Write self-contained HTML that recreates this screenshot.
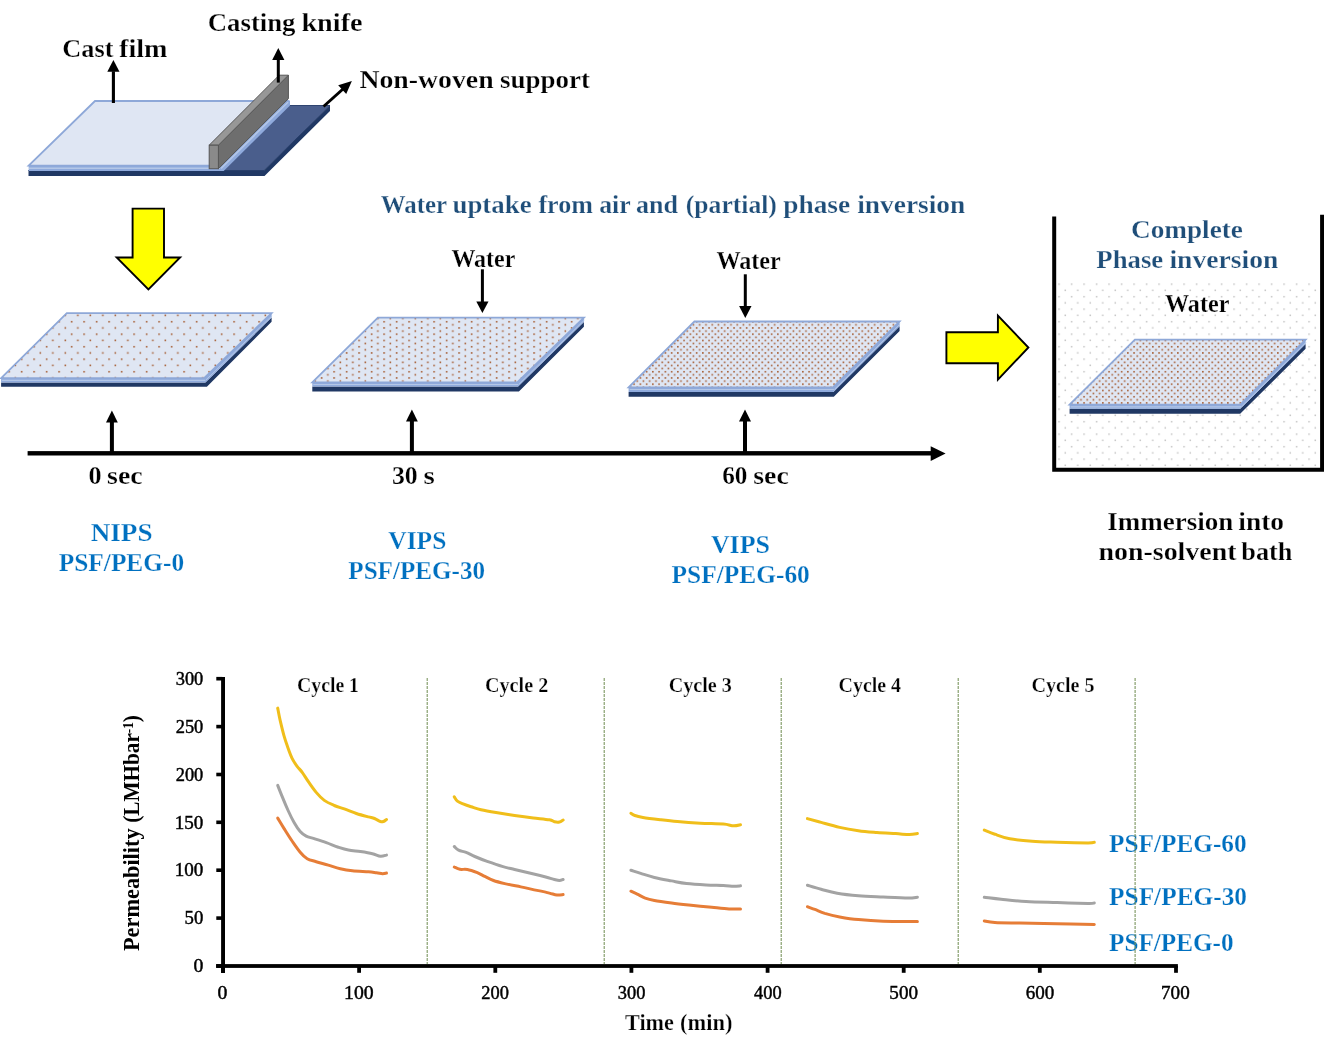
<!DOCTYPE html>
<html><head><meta charset="utf-8"><title>Phase inversion</title><style>html,body{margin:0;padding:0;background:#fff;}svg{display:block;}</style></head><body>
<svg width="1324" height="1046" viewBox="0 0 1324 1046" font-family="'Liberation Serif', serif"><defs>
<pattern id="pA" patternUnits="userSpaceOnUse" x="8.3" y="8.4" width="12.5" height="12.5"><rect x="0" y="0" width="1.6" height="1.6" fill="#A8623A"/><rect x="6.25" y="6.25" width="1.6" height="1.6" fill="#A8623A"/></pattern>
<pattern id="pB" patternUnits="userSpaceOnUse" x="8.3" y="8.4" width="12.5" height="6.25"><rect x="0" y="0" width="1.6" height="1.6" fill="#A8623A"/><rect x="6.25" y="3.125" width="1.6" height="1.6" fill="#A8623A"/></pattern>
<pattern id="pC" patternUnits="userSpaceOnUse" x="8.3" y="8.4" width="6.25" height="6.25"><rect x="0" y="0" width="1.6" height="1.6" fill="#A8623A"/><rect x="3.125" y="3.125" width="1.6" height="1.6" fill="#A8623A"/></pattern>
<pattern id="pD" patternUnits="userSpaceOnUse" x="8.3" y="8.4" width="6.25" height="6.25"><rect x="0" y="0" width="1.6" height="1.6" fill="#A8623A"/><rect x="3.125" y="3.125" width="1.6" height="1.6" fill="#A8623A"/></pattern>
<pattern id="pW" patternUnits="userSpaceOnUse" x="8.3" y="8.4" width="12.5" height="12.5"><rect x="0" y="0" width="1.5" height="1.5" fill="#C4C4C4"/><rect x="6.25" y="6.25" width="1.5" height="1.5" fill="#C4C4C4"/></pattern>
</defs>
<rect width="1324" height="1046" fill="#fff"/>
<polygon points="95.0,105.5 330.0,105.5 264.0,170.5 28.5,170.5" fill="#4A5E8C" stroke="#2F4470" stroke-width="1"/>
<polygon points="28.5,170.5 264.0,170.5 330.0,105.5 330.0,111.0 264.5,176.0 28.5,176.0" fill="#203864"/>
<polygon points="95.0,100.5 290.0,100.5 290.0,105.5 223.7,171.0 28.7,171.0 28.7,165.6" fill="#8FAADC"/>
<line x1="29" y1="168.3" x2="220" y2="168.3" stroke="#B4C7E7" stroke-width="1.4"/>
<line x1="221" y1="168.5" x2="288" y2="102" stroke="#B4C7E7" stroke-width="1.6"/>
<polygon points="95.0,101.0 287.0,101.0 218.4,165.6 28.7,165.6" fill="#DFE6F3" stroke="#8EA8D8" stroke-width="1.8"/>
<polygon points="218.4,145.2 288.4,75.2 288.4,98.7 218.4,168.7" fill="#6E6E6E" stroke="#555" stroke-width="1"/>
<polygon points="209.2,145.2 218.4,145.2 288.4,75.2 279.2,75.2" fill="#979797" stroke="#555" stroke-width="1"/>
<rect x="209.2" y="145.2" width="9.2" height="23.5" fill="#8A8A8A" stroke="#555" stroke-width="1"/>
<rect x="111.85" y="71.30" width="3.1" height="31.70" fill="#000"/><polygon points="113.4,60.0 119.5,71.8 107.3,71.8" fill="#000"/>
<rect x="276.80" y="59.40" width="3.0" height="23.20" fill="#000"/><polygon points="278.3,47.9 284.4,59.9 272.2,59.9" fill="#000"/>
<line x1="323.5" y1="106.5" x2="343.0" y2="89.0" stroke="#000" stroke-width="3"/>
<polygon points="351.9,81.0 346.2,94.1 338.2,85.2" fill="#000"/>
<polygon points="132.6,208.6 164.0,208.6 164.0,257.5 180.1,257.5 148.4,289.3 116.7,257.5 132.6,257.5" fill="#FFFF00" stroke="#000" stroke-width="1.9"/>
<polygon points="946.4,332.2 997.9,332.2 997.9,315.6 1028.4,347.5 997.9,379.6 997.9,363.2 946.4,363.2" fill="#FFFF00" stroke="#000" stroke-width="1.9"/>
<rect x="1057" y="282.5" width="262" height="184" fill="url(#pW)"/>
<path d="M1054.2,216.4 V469.7 H1322.1 V214.8" fill="none" stroke="#000" stroke-width="4" stroke-linejoin="miter"/>
<polygon points="1.1,382.5 205.4,382.5 271.6,317.6 271.6,321.8 206.9,386.7 1.1,386.7" fill="#203864"/>
<polygon points="1.1,378.1 204.1,378.1 271.6,313.2 271.6,317.6 205.4,382.5 1.1,382.5" fill="#8FAADC"/>
<line x1="2.1" y1="380.3" x2="205.1" y2="380.3" stroke="#B4C7E7" stroke-width="1.2"/>
<line x1="205.6" y1="380.3" x2="272.1" y2="315.7" stroke="#B4C7E7" stroke-width="1.0"/>
<polygon points="66.8,313.2 271.6,313.2 204.1,378.1 1.1,378.1" fill="#DFE6F3"/>
<polygon points="66.8,313.2 271.6,313.2 204.1,378.1 1.1,378.1" fill="url(#pA)"/>
<polygon points="66.8,313.2 271.6,313.2 204.1,378.1 1.1,378.1" fill="none" stroke="#8EA8D8" stroke-width="1.8" stroke-linejoin="miter"/>
<polygon points="312.3,386.6 518.1,386.6 583.9,321.9 583.9,326.8 518.9,391.5 312.3,391.5" fill="#203864"/>
<polygon points="312.3,382.3 517.2,382.3 583.9,317.6 583.9,321.9 518.1,386.6 312.3,386.6" fill="#8FAADC"/>
<line x1="313.3" y1="384.5" x2="518.2" y2="384.5" stroke="#B4C7E7" stroke-width="1.2"/>
<line x1="518.7" y1="384.5" x2="584.4" y2="320.1" stroke="#B4C7E7" stroke-width="1.0"/>
<polygon points="377.9,317.6 583.9,317.6 517.2,382.3 312.3,382.3" fill="#DFE6F3"/>
<polygon points="377.9,317.6 583.9,317.6 517.2,382.3 312.3,382.3" fill="url(#pB)"/>
<polygon points="377.9,317.6 583.9,317.6 517.2,382.3 312.3,382.3" fill="none" stroke="#8EA8D8" stroke-width="1.8" stroke-linejoin="miter"/>
<polygon points="628.6,392.0 833.4,392.0 899.6,326.2 899.6,331.0 833.8,396.8 628.6,396.8" fill="#203864"/>
<polygon points="628.6,387.3 832.9,387.3 899.6,321.5 899.6,326.2 833.4,392.0 628.6,392.0" fill="#8FAADC"/>
<line x1="629.6" y1="389.5" x2="833.9" y2="389.5" stroke="#B4C7E7" stroke-width="1.2"/>
<line x1="834.4" y1="389.5" x2="900.1" y2="324.0" stroke="#B4C7E7" stroke-width="1.0"/>
<polygon points="694.4,321.5 899.6,321.5 832.9,387.3 628.6,387.3" fill="#DFE6F3"/>
<polygon points="694.4,321.5 899.6,321.5 832.9,387.3 628.6,387.3" fill="url(#pC)"/>
<polygon points="694.4,321.5 899.6,321.5 832.9,387.3 628.6,387.3" fill="none" stroke="#8EA8D8" stroke-width="1.8" stroke-linejoin="miter"/>
<polygon points="1069.6,408.8 1240.2,408.8 1305.6,343.9 1305.6,348.8 1240.2,413.7 1069.6,413.7" fill="#203864"/>
<polygon points="1069.6,404.6 1240.2,404.6 1305.6,339.7 1305.6,343.9 1240.2,408.8 1069.6,408.8" fill="#8FAADC"/>
<line x1="1070.6" y1="406.8" x2="1241.2" y2="406.8" stroke="#B4C7E7" stroke-width="1.2"/>
<line x1="1241.7" y1="406.8" x2="1306.1" y2="342.2" stroke="#B4C7E7" stroke-width="1.0"/>
<polygon points="1134.9,339.7 1305.6,339.7 1240.2,404.6 1069.6,404.6" fill="#DFE6F3"/>
<polygon points="1134.9,339.7 1305.6,339.7 1240.2,404.6 1069.6,404.6" fill="url(#pD)"/>
<polygon points="1134.9,339.7 1305.6,339.7 1240.2,404.6 1069.6,404.6" fill="none" stroke="#8EA8D8" stroke-width="1.8" stroke-linejoin="miter"/>
<rect x="480.90" y="269.30" width="3.0" height="32.70" fill="#000"/><polygon points="482.4,313.1 488.5,301.5 476.3,301.5" fill="#000"/>
<rect x="743.80" y="274.30" width="3.0" height="32.30" fill="#000"/><polygon points="745.3,318.1 751.5,306.1 739.1,306.1" fill="#000"/>
<rect x="27.6" y="451.1" width="905" height="4.4" fill="#000"/>
<polygon points="945.6,453.4 930.7,446.2 930.7,460.9" fill="#000"/>
<rect x="109.90" y="421.90" width="4.0" height="30.10" fill="#000"/><polygon points="111.9,410.6 117.8,422.4 106.0,422.4" fill="#000"/>
<rect x="409.90" y="420.90" width="4.0" height="31.10" fill="#000"/><polygon points="411.9,409.6 417.8,421.4 406.0,421.4" fill="#000"/>
<rect x="743.00" y="420.90" width="4.0" height="31.10" fill="#000"/><polygon points="745.0,409.6 751.0,421.4 739.0,421.4" fill="#000"/>
<path d="M277.7,818.1 C278.8,819.9 281.7,824.8 284.1,828.6 C286.5,832.4 289.4,837.1 292.1,841.0 C294.8,844.9 297.7,849.2 300.2,852.2 C302.7,855.2 304.5,857.1 307.2,858.7 C309.9,860.3 312.7,860.6 316.2,861.7 C319.7,862.8 324.3,863.9 328.3,865.1 C332.3,866.3 336.3,867.8 340.3,868.7 C344.3,869.6 347.7,870.2 352.4,870.7 C357.1,871.2 364.4,871.4 368.4,871.7 C372.4,872.0 374.1,872.4 376.5,872.7 C378.9,873.0 380.8,873.6 382.5,873.7 C384.2,873.8 385.8,873.2 386.5,873.1" fill="none" stroke="#E67D37" stroke-width="3" stroke-linecap="round" stroke-linejoin="round"/>
<path d="M454.3,867.0 C455.2,867.4 457.7,868.9 459.9,869.3 C462.1,869.7 464.5,869.0 467.4,869.5 C470.3,870.0 474.4,871.5 477.3,872.6 C480.2,873.8 482.1,875.1 484.8,876.4 C487.5,877.7 490.2,879.3 493.5,880.5 C496.8,881.7 500.1,882.5 504.7,883.6 C509.2,884.7 515.4,885.8 520.8,886.9 C526.2,888.0 532.2,889.4 537.0,890.4 C541.8,891.4 546.1,892.3 549.4,893.1 C552.7,893.9 554.6,894.8 556.9,895.0 C559.2,895.2 562.1,894.7 563.1,894.6" fill="none" stroke="#E67D37" stroke-width="3" stroke-linecap="round" stroke-linejoin="round"/>
<path d="M630.9,891.2 C632.0,891.7 634.8,893.0 637.2,894.1 C639.6,895.2 642.3,897.1 645.2,898.1 C648.1,899.1 650.0,899.6 654.4,900.4 C658.8,901.2 665.9,902.2 671.6,903.0 C677.3,903.8 682.1,904.3 688.8,905.0 C695.5,905.7 705.1,906.6 711.8,907.3 C718.5,908.0 724.2,908.7 729.0,909.0 C733.8,909.3 738.6,909.0 740.5,909.0" fill="none" stroke="#E67D37" stroke-width="3" stroke-linecap="round" stroke-linejoin="round"/>
<path d="M807.4,906.7 C808.6,907.2 812.0,908.3 814.9,909.4 C817.8,910.5 820.7,912.1 824.8,913.4 C828.9,914.6 834.1,915.9 839.7,916.9 C845.3,917.9 851.1,918.9 858.4,919.6 C865.6,920.3 873.4,920.9 883.2,921.2 C893.0,921.5 911.7,921.5 917.4,921.6" fill="none" stroke="#E67D37" stroke-width="3" stroke-linecap="round" stroke-linejoin="round"/>
<path d="M984.3,920.9 C986.1,921.2 989.0,922.1 994.9,922.5 C1000.8,922.9 1009.4,922.9 1019.7,923.1 C1030.0,923.3 1044.6,923.6 1057.0,923.8 C1069.4,924.0 1088.1,924.3 1094.3,924.4" fill="none" stroke="#E67D37" stroke-width="3" stroke-linecap="round" stroke-linejoin="round"/>
<path d="M277.7,785.4 C278.4,787.2 280.4,792.2 282.1,796.4 C283.8,800.6 286.1,806.1 288.1,810.5 C290.1,814.9 292.1,819.0 294.1,822.5 C296.1,826.0 298.2,829.3 300.2,831.6 C302.2,833.9 303.9,835.0 306.2,836.2 C308.5,837.4 310.8,837.5 314.2,838.6 C317.6,839.7 322.3,841.2 326.3,842.6 C330.3,844.0 334.6,846.0 338.3,847.2 C342.0,848.4 344.7,849.3 348.4,850.0 C352.1,850.7 356.4,851.0 360.4,851.6 C364.4,852.2 369.0,852.9 372.4,853.7 C375.8,854.5 378.1,856.1 380.5,856.3 C382.9,856.5 385.5,855.3 386.5,855.1" fill="none" stroke="#A3A3A3" stroke-width="3" stroke-linecap="round" stroke-linejoin="round"/>
<path d="M454.3,846.5 C455.0,847.1 456.6,849.2 458.6,850.2 C460.6,851.2 463.4,851.4 466.1,852.4 C468.8,853.4 471.3,855.0 474.8,856.5 C478.3,858.0 482.6,859.8 487.2,861.4 C491.8,863.0 497.6,865.0 502.2,866.4 C506.8,867.8 510.1,868.4 514.6,869.5 C519.1,870.6 524.3,871.8 529.5,873.0 C534.7,874.2 541.6,875.9 545.7,877.0 C549.9,878.1 552.1,878.9 554.4,879.5 C556.7,880.1 557.9,880.5 559.4,880.5 C560.9,880.5 562.5,879.7 563.1,879.5" fill="none" stroke="#A3A3A3" stroke-width="3" stroke-linecap="round" stroke-linejoin="round"/>
<path d="M630.9,870.2 C632.5,870.7 636.8,872.2 640.7,873.4 C644.6,874.6 649.2,876.2 654.4,877.5 C659.5,878.8 666.2,879.9 671.6,880.9 C677.0,881.9 680.9,882.8 686.6,883.5 C692.4,884.2 700.0,884.6 706.1,884.9 C712.2,885.2 718.7,885.3 723.3,885.5 C727.9,885.7 730.7,886.2 733.6,886.3 C736.5,886.3 739.4,885.9 740.5,885.8" fill="none" stroke="#A3A3A3" stroke-width="3" stroke-linecap="round" stroke-linejoin="round"/>
<path d="M807.4,885.2 C809.7,885.9 816.1,888.0 821.1,889.3 C826.1,890.6 831.0,892.1 837.2,893.2 C843.4,894.3 850.7,895.1 858.4,895.7 C866.1,896.3 874.9,896.6 883.2,897.0 C891.5,897.4 902.4,898.0 908.1,898.0 C913.8,898.0 915.9,897.3 917.4,897.2" fill="none" stroke="#A3A3A3" stroke-width="3" stroke-linecap="round" stroke-linejoin="round"/>
<path d="M984.3,897.3 C987.1,897.6 994.1,898.6 1001.1,899.3 C1008.1,900.0 1016.7,901.0 1026.0,901.6 C1035.3,902.2 1046.7,902.3 1057.0,902.6 C1067.3,902.9 1081.9,903.4 1088.1,903.5 C1094.3,903.6 1093.3,903.1 1094.3,903.0" fill="none" stroke="#A3A3A3" stroke-width="3" stroke-linecap="round" stroke-linejoin="round"/>
<path d="M277.7,708.1 C278.1,710.1 279.0,715.4 280.1,720.1 C281.2,724.8 282.8,731.5 284.1,736.2 C285.4,740.9 286.8,744.5 288.1,748.2 C289.4,751.9 290.6,755.3 292.1,758.3 C293.6,761.3 295.4,764.0 297.1,766.3 C298.8,768.6 300.4,769.8 302.2,772.3 C304.0,774.8 305.9,778.0 308.2,781.4 C310.5,784.8 313.5,789.2 316.2,792.4 C318.9,795.6 321.3,798.2 324.3,800.4 C327.3,802.6 331.0,804.1 334.3,805.5 C337.6,806.9 340.6,807.6 344.3,808.9 C348.0,810.2 352.4,812.2 356.4,813.5 C360.4,814.8 365.4,816.1 368.4,816.9 C371.4,817.7 372.5,817.7 374.5,818.5 C376.5,819.3 379.0,821.0 380.5,821.5 C382.0,822.0 382.5,821.8 383.5,821.5 C384.5,821.2 386.0,819.8 386.5,819.5" fill="none" stroke="#F0BE1A" stroke-width="3" stroke-linecap="round" stroke-linejoin="round"/>
<path d="M454.3,796.8 C454.8,797.5 456.0,800.0 457.4,801.1 C458.8,802.2 460.1,802.7 462.4,803.6 C464.7,804.5 468.0,805.7 471.1,806.7 C474.2,807.7 476.9,808.8 481.0,809.8 C485.1,810.8 490.4,811.7 496.0,812.6 C501.6,813.5 508.4,814.5 514.6,815.4 C520.8,816.3 527.5,817.2 533.3,817.9 C539.1,818.6 545.9,819.2 549.4,819.8 C552.9,820.4 552.7,821.3 554.4,821.7 C556.1,822.1 557.9,822.3 559.4,822.0 C560.9,821.7 562.5,820.3 563.1,820.0" fill="none" stroke="#F0BE1A" stroke-width="3" stroke-linecap="round" stroke-linejoin="round"/>
<path d="M630.9,813.2 C631.6,813.6 632.9,814.8 634.9,815.5 C636.9,816.2 638.8,816.7 643.0,817.4 C647.2,818.1 654.5,819.0 660.2,819.7 C665.9,820.4 670.7,821.0 677.4,821.6 C684.1,822.2 692.6,822.8 700.3,823.2 C707.9,823.6 717.8,823.7 723.3,824.1 C728.8,824.5 730.7,825.7 733.6,825.8 C736.5,825.9 739.4,824.9 740.5,824.7" fill="none" stroke="#F0BE1A" stroke-width="3" stroke-linecap="round" stroke-linejoin="round"/>
<path d="M807.4,818.6 C809.7,819.2 815.7,820.9 821.1,822.4 C826.5,823.9 833.5,826.0 839.7,827.4 C845.9,828.8 852.2,829.9 858.4,830.8 C864.6,831.7 870.8,832.1 877.0,832.6 C883.2,833.1 890.3,833.3 895.7,833.6 C901.1,833.9 905.8,834.6 909.4,834.6 C913.0,834.6 916.1,833.8 917.4,833.6" fill="none" stroke="#F0BE1A" stroke-width="3" stroke-linecap="round" stroke-linejoin="round"/>
<path d="M984.3,830.1 C986.1,830.8 990.6,832.8 994.9,834.2 C999.1,835.7 1003.6,837.6 1009.8,838.8 C1016.0,840.0 1024.3,840.7 1032.2,841.3 C1040.1,841.9 1047.7,842.0 1057.0,842.3 C1066.3,842.6 1081.9,842.9 1088.1,842.9 C1094.3,842.9 1093.3,842.4 1094.3,842.3" fill="none" stroke="#F0BE1A" stroke-width="3" stroke-linecap="round" stroke-linejoin="round"/>
<rect x="221.1" y="677" width="3.9" height="296" fill="#000"/>
<rect x="216.1" y="964.1" width="961.8" height="3.8" fill="#000"/>
<rect x="216.3" y="964.2" width="6" height="3.6" fill="#000"/>
<rect x="216.3" y="916.3" width="6" height="3.6" fill="#000"/>
<rect x="216.3" y="868.4" width="6" height="3.6" fill="#000"/>
<rect x="216.3" y="820.5" width="6" height="3.6" fill="#000"/>
<rect x="216.3" y="772.7" width="6" height="3.6" fill="#000"/>
<rect x="216.3" y="724.8" width="6" height="3.6" fill="#000"/>
<rect x="216.3" y="676.9" width="6" height="3.6" fill="#000"/>
<rect x="221.1" y="966" width="3.8" height="6.8" fill="#000"/>
<rect x="357.2" y="966" width="3.8" height="6.8" fill="#000"/>
<rect x="493.4" y="966" width="3.8" height="6.8" fill="#000"/>
<rect x="629.5" y="966" width="3.8" height="6.8" fill="#000"/>
<rect x="765.7" y="966" width="3.8" height="6.8" fill="#000"/>
<rect x="901.8" y="966" width="3.8" height="6.8" fill="#000"/>
<rect x="1037.9" y="966" width="3.8" height="6.8" fill="#000"/>
<rect x="1174.1" y="966" width="3.8" height="6.8" fill="#000"/>
<text id="t_castfilm_0" x="62.30" y="56.90" font-size="25.80" font-weight="bold" fill="#000" stroke="#fff" stroke-width="0.25" textLength="51.10" lengthAdjust="spacingAndGlyphs">Cast</text>
<text id="t_castfilm_1" x="119.00" y="56.90" font-size="25.80" font-weight="bold" fill="#000" stroke="#fff" stroke-width="0.25" textLength="48.50" lengthAdjust="spacingAndGlyphs">film</text>
<text id="t_knife_0" x="207.80" y="30.70" font-size="25.80" font-weight="bold" fill="#000" stroke="#fff" stroke-width="0.25" textLength="87.70" lengthAdjust="spacingAndGlyphs">Casting</text>
<text id="t_knife_1" x="301.40" y="30.70" font-size="25.80" font-weight="bold" fill="#000" stroke="#fff" stroke-width="0.25" textLength="61.20" lengthAdjust="spacingAndGlyphs">knife</text>
<text id="t_nonwoven_0" x="359.40" y="88.20" font-size="25.80" font-weight="bold" fill="#000" stroke="#fff" stroke-width="0.25" textLength="134.20" lengthAdjust="spacingAndGlyphs">Non-woven</text>
<text id="t_nonwoven_1" x="500.00" y="88.20" font-size="25.80" font-weight="bold" fill="#000" stroke="#fff" stroke-width="0.25" textLength="89.90" lengthAdjust="spacingAndGlyphs">support</text>
<text id="t_title_0" x="380.80" y="212.70" font-size="25.80" font-weight="bold" fill="#1F4E79" stroke="#fff" stroke-width="0.25" textLength="66.20" lengthAdjust="spacingAndGlyphs">Water</text>
<text id="t_title_1" x="452.50" y="212.70" font-size="25.80" font-weight="bold" fill="#1F4E79" stroke="#fff" stroke-width="0.25" textLength="79.10" lengthAdjust="spacingAndGlyphs">uptake</text>
<text id="t_title_2" x="538.40" y="212.70" font-size="25.80" font-weight="bold" fill="#1F4E79" stroke="#fff" stroke-width="0.25" textLength="54.50" lengthAdjust="spacingAndGlyphs">from</text>
<text id="t_title_3" x="599.20" y="212.70" font-size="25.80" font-weight="bold" fill="#1F4E79" stroke="#fff" stroke-width="0.25" textLength="31.50" lengthAdjust="spacingAndGlyphs">air</text>
<text id="t_title_4" x="636.00" y="212.70" font-size="25.80" font-weight="bold" fill="#1F4E79" stroke="#fff" stroke-width="0.25" textLength="42.00" lengthAdjust="spacingAndGlyphs">and</text>
<text id="t_title_5" x="685.80" y="212.70" font-size="25.80" font-weight="bold" fill="#1F4E79" stroke="#fff" stroke-width="0.25" textLength="91.10" lengthAdjust="spacingAndGlyphs">(partial)</text>
<text id="t_title_6" x="783.20" y="212.70" font-size="25.80" font-weight="bold" fill="#1F4E79" stroke="#fff" stroke-width="0.25" textLength="67.00" lengthAdjust="spacingAndGlyphs">phase</text>
<text id="t_title_7" x="857.20" y="212.70" font-size="25.80" font-weight="bold" fill="#1F4E79" stroke="#fff" stroke-width="0.25" textLength="108.10" lengthAdjust="spacingAndGlyphs">inversion</text>
<text id="t_water1_0" x="451.40" y="266.80" font-size="25.80" font-weight="bold" fill="#000" stroke="#fff" stroke-width="0.25" textLength="63.90" lengthAdjust="spacingAndGlyphs">Water</text>
<text id="t_water2_0" x="716.40" y="269.20" font-size="25.80" font-weight="bold" fill="#000" stroke="#fff" stroke-width="0.25" textLength="64.40" lengthAdjust="spacingAndGlyphs">Water</text>
<text id="t_complete_0" x="1131.00" y="237.60" font-size="25.80" font-weight="bold" fill="#1F4E79" stroke="#fff" stroke-width="0.25" textLength="111.90" lengthAdjust="spacingAndGlyphs">Complete</text>
<text id="t_phase_0" x="1096.30" y="267.90" font-size="25.80" font-weight="bold" fill="#1F4E79" stroke="#fff" stroke-width="0.25" textLength="66.90" lengthAdjust="spacingAndGlyphs">Phase</text>
<text id="t_phase_1" x="1169.40" y="267.90" font-size="25.80" font-weight="bold" fill="#1F4E79" stroke="#fff" stroke-width="0.25" textLength="108.90" lengthAdjust="spacingAndGlyphs">inversion</text>
<text id="t_water3_0" x="1165.00" y="311.60" font-size="25.80" font-weight="bold" fill="#000" stroke="#fff" stroke-width="0.25" textLength="64.50" lengthAdjust="spacingAndGlyphs">Water</text>
<text id="t_0sec_0" x="88.40" y="483.60" font-size="25.20" font-weight="bold" fill="#000" stroke="#fff" stroke-width="0.25" textLength="13.10" lengthAdjust="spacingAndGlyphs">0</text>
<text id="t_0sec_1" x="107.10" y="483.60" font-size="25.20" font-weight="bold" fill="#000" stroke="#fff" stroke-width="0.25" textLength="35.50" lengthAdjust="spacingAndGlyphs">sec</text>
<text id="t_30s_0" x="391.90" y="483.60" font-size="25.20" font-weight="bold" fill="#000" stroke="#fff" stroke-width="0.25" textLength="25.80" lengthAdjust="spacingAndGlyphs">30</text>
<text id="t_30s_1" x="423.40" y="483.60" font-size="25.20" font-weight="bold" fill="#000" stroke="#fff" stroke-width="0.25" textLength="11.30" lengthAdjust="spacingAndGlyphs">s</text>
<text id="t_60sec_0" x="722.20" y="483.60" font-size="25.20" font-weight="bold" fill="#000" stroke="#fff" stroke-width="0.25" textLength="25.20" lengthAdjust="spacingAndGlyphs">60</text>
<text id="t_60sec_1" x="753.30" y="483.60" font-size="25.20" font-weight="bold" fill="#000" stroke="#fff" stroke-width="0.25" textLength="35.50" lengthAdjust="spacingAndGlyphs">sec</text>
<text id="t_nips_0" x="90.70" y="540.90" font-size="25.80" font-weight="bold" fill="#0070C0" stroke="#fff" stroke-width="0.25" textLength="61.80" lengthAdjust="spacingAndGlyphs">NIPS</text>
<text id="t_peg0_0" x="58.80" y="571.10" font-size="25.80" font-weight="bold" fill="#0070C0" stroke="#fff" stroke-width="0.25" textLength="125.30" lengthAdjust="spacingAndGlyphs">PSF/PEG-0</text>
<text id="t_vips30_0" x="388.30" y="548.50" font-size="25.80" font-weight="bold" fill="#0070C0" stroke="#fff" stroke-width="0.25" textLength="58.00" lengthAdjust="spacingAndGlyphs">VIPS</text>
<text id="t_peg30_0" x="348.30" y="578.80" font-size="25.80" font-weight="bold" fill="#0070C0" stroke="#fff" stroke-width="0.25" textLength="136.80" lengthAdjust="spacingAndGlyphs">PSF/PEG-30</text>
<text id="t_vips60_0" x="710.90" y="552.80" font-size="25.80" font-weight="bold" fill="#0070C0" stroke="#fff" stroke-width="0.25" textLength="59.10" lengthAdjust="spacingAndGlyphs">VIPS</text>
<text id="t_peg60_0" x="671.60" y="583.10" font-size="25.80" font-weight="bold" fill="#0070C0" stroke="#fff" stroke-width="0.25" textLength="138.20" lengthAdjust="spacingAndGlyphs">PSF/PEG-60</text>
<text id="t_immersion_0" x="1107.30" y="529.90" font-size="25.80" font-weight="bold" fill="#000" stroke="#fff" stroke-width="0.25" textLength="125.90" lengthAdjust="spacingAndGlyphs">Immersion</text>
<text id="t_immersion_1" x="1238.30" y="529.90" font-size="25.80" font-weight="bold" fill="#000" stroke="#fff" stroke-width="0.25" textLength="45.80" lengthAdjust="spacingAndGlyphs">into</text>
<text id="t_nonsolvent_0" x="1098.50" y="559.90" font-size="25.80" font-weight="bold" fill="#000" stroke="#fff" stroke-width="0.25" textLength="138.00" lengthAdjust="spacingAndGlyphs">non-solvent</text>
<text id="t_nonsolvent_1" x="1241.30" y="559.90" font-size="25.80" font-weight="bold" fill="#000" stroke="#fff" stroke-width="0.25" textLength="51.10" lengthAdjust="spacingAndGlyphs">bath</text>
<text id="t_c1_0" x="297.00" y="692.00" font-size="20.20" font-weight="bold" fill="#000" stroke="#fff" stroke-width="0.25" textLength="62.00" lengthAdjust="spacingAndGlyphs">Cycle 1</text>
<text id="t_c2_0" x="485.00" y="692.00" font-size="20.20" font-weight="bold" fill="#000" stroke="#fff" stroke-width="0.25" textLength="63.20" lengthAdjust="spacingAndGlyphs">Cycle 2</text>
<text id="t_c3_0" x="668.70" y="692.00" font-size="20.20" font-weight="bold" fill="#000" stroke="#fff" stroke-width="0.25" textLength="63.10" lengthAdjust="spacingAndGlyphs">Cycle 3</text>
<text id="t_c4_0" x="838.60" y="692.00" font-size="20.20" font-weight="bold" fill="#000" stroke="#fff" stroke-width="0.25" textLength="62.40" lengthAdjust="spacingAndGlyphs">Cycle 4</text>
<text id="t_c5_0" x="1031.50" y="692.00" font-size="20.20" font-weight="bold" fill="#000" stroke="#fff" stroke-width="0.25" textLength="63.10" lengthAdjust="spacingAndGlyphs">Cycle 5</text>
<text id="t_time_0" x="625.10" y="1029.90" font-size="22.40" font-weight="bold" fill="#000" stroke="#fff" stroke-width="0.25" textLength="48.70" lengthAdjust="spacingAndGlyphs">Time</text>
<text id="t_time_1" x="680.00" y="1029.90" font-size="22.40" font-weight="bold" fill="#000" stroke="#fff" stroke-width="0.25" textLength="52.40" lengthAdjust="spacingAndGlyphs">(min)</text>
<text id="t_l60_0" x="1109.10" y="851.80" font-size="25.80" font-weight="bold" fill="#0070C0" stroke="#fff" stroke-width="0.25" textLength="137.50" lengthAdjust="spacingAndGlyphs">PSF/PEG-60</text>
<text id="t_l30_0" x="1109.10" y="904.60" font-size="25.80" font-weight="bold" fill="#0070C0" stroke="#fff" stroke-width="0.25" textLength="137.90" lengthAdjust="spacingAndGlyphs">PSF/PEG-30</text>
<text id="t_l0_0" x="1109.10" y="950.50" font-size="25.80" font-weight="bold" fill="#0070C0" stroke="#fff" stroke-width="0.25" textLength="124.50" lengthAdjust="spacingAndGlyphs">PSF/PEG-0</text>
<text id="y0_0" x="193.43" y="972.20" font-size="19.00" font-weight="normal" fill="#000" stroke="#000" stroke-width="0.45" textLength="9.87" lengthAdjust="spacingAndGlyphs">0</text>
<text id="y50_0" x="184.56" y="924.32" font-size="19.00" font-weight="normal" fill="#000" stroke="#000" stroke-width="0.45" textLength="18.74" lengthAdjust="spacingAndGlyphs">50</text>
<text id="y100_0" x="174.69" y="876.43" font-size="19.00" font-weight="normal" fill="#000" stroke="#000" stroke-width="0.45" textLength="28.61" lengthAdjust="spacingAndGlyphs">100</text>
<text id="y150_0" x="174.69" y="828.55" font-size="19.00" font-weight="normal" fill="#000" stroke="#000" stroke-width="0.45" textLength="28.61" lengthAdjust="spacingAndGlyphs">150</text>
<text id="y200_0" x="175.69" y="780.66" font-size="19.00" font-weight="normal" fill="#000" stroke="#000" stroke-width="0.45" textLength="27.61" lengthAdjust="spacingAndGlyphs">200</text>
<text id="y250_0" x="175.69" y="732.78" font-size="19.00" font-weight="normal" fill="#000" stroke="#000" stroke-width="0.45" textLength="27.61" lengthAdjust="spacingAndGlyphs">250</text>
<text id="y300_0" x="175.69" y="684.89" font-size="19.00" font-weight="normal" fill="#000" stroke="#000" stroke-width="0.45" textLength="27.61" lengthAdjust="spacingAndGlyphs">300</text>
<text id="x0_0" x="217.56" y="999.20" font-size="19.00" font-weight="normal" fill="#000" stroke="#000" stroke-width="0.45" textLength="9.87" lengthAdjust="spacingAndGlyphs">0</text>
<text id="x100_0" x="344.03" y="999.20" font-size="19.00" font-weight="normal" fill="#000" stroke="#000" stroke-width="0.45" textLength="29.61" lengthAdjust="spacingAndGlyphs">100</text>
<text id="x200_0" x="481.37" y="999.20" font-size="19.00" font-weight="normal" fill="#000" stroke="#000" stroke-width="0.45" textLength="27.61" lengthAdjust="spacingAndGlyphs">200</text>
<text id="x300_0" x="617.72" y="999.20" font-size="19.00" font-weight="normal" fill="#000" stroke="#000" stroke-width="0.45" textLength="27.61" lengthAdjust="spacingAndGlyphs">300</text>
<text id="x400_0" x="754.05" y="999.20" font-size="19.00" font-weight="normal" fill="#000" stroke="#000" stroke-width="0.45" textLength="27.61" lengthAdjust="spacingAndGlyphs">400</text>
<text id="x500_0" x="889.39" y="999.20" font-size="19.00" font-weight="normal" fill="#000" stroke="#000" stroke-width="0.45" textLength="28.61" lengthAdjust="spacingAndGlyphs">500</text>
<text id="x600_0" x="1025.73" y="999.20" font-size="19.00" font-weight="normal" fill="#000" stroke="#000" stroke-width="0.45" textLength="28.61" lengthAdjust="spacingAndGlyphs">600</text>
<text id="x700_0" x="1161.07" y="999.20" font-size="19.00" font-weight="normal" fill="#000" stroke="#000" stroke-width="0.45" textLength="28.61" lengthAdjust="spacingAndGlyphs">700</text>
<line x1="427.2" y1="678" x2="427.2" y2="964" stroke="#7C9660" stroke-width="1.1" stroke-dasharray="2.9,1.1"/>
<line x1="604.2" y1="678" x2="604.2" y2="964" stroke="#7C9660" stroke-width="1.1" stroke-dasharray="2.9,1.1"/>
<line x1="781.2" y1="678" x2="781.2" y2="964" stroke="#7C9660" stroke-width="1.1" stroke-dasharray="2.9,1.1"/>
<line x1="958.2" y1="678" x2="958.2" y2="964" stroke="#7C9660" stroke-width="1.1" stroke-dasharray="2.9,1.1"/>
<line x1="1135.1" y1="678" x2="1135.1" y2="964" stroke="#7C9660" stroke-width="1.1" stroke-dasharray="2.9,1.1"/>
<g transform="translate(139.00,0) rotate(-90)"><text id="yt_0" x="-951.00" y="0.00" font-size="22.50" font-weight="bold" fill="#000" textLength="122.60" lengthAdjust="spacingAndGlyphs">Permeability</text><text id="yt_1" x="-822.70" y="0.00" font-size="22.50" font-weight="bold" fill="#000" textLength="107.50" lengthAdjust="spacingAndGlyphs">(LMHbar<tspan font-size="13.95" dy="-5.85">-1</tspan><tspan dy="5.85">)</tspan></text></g></svg>
</body></html>
